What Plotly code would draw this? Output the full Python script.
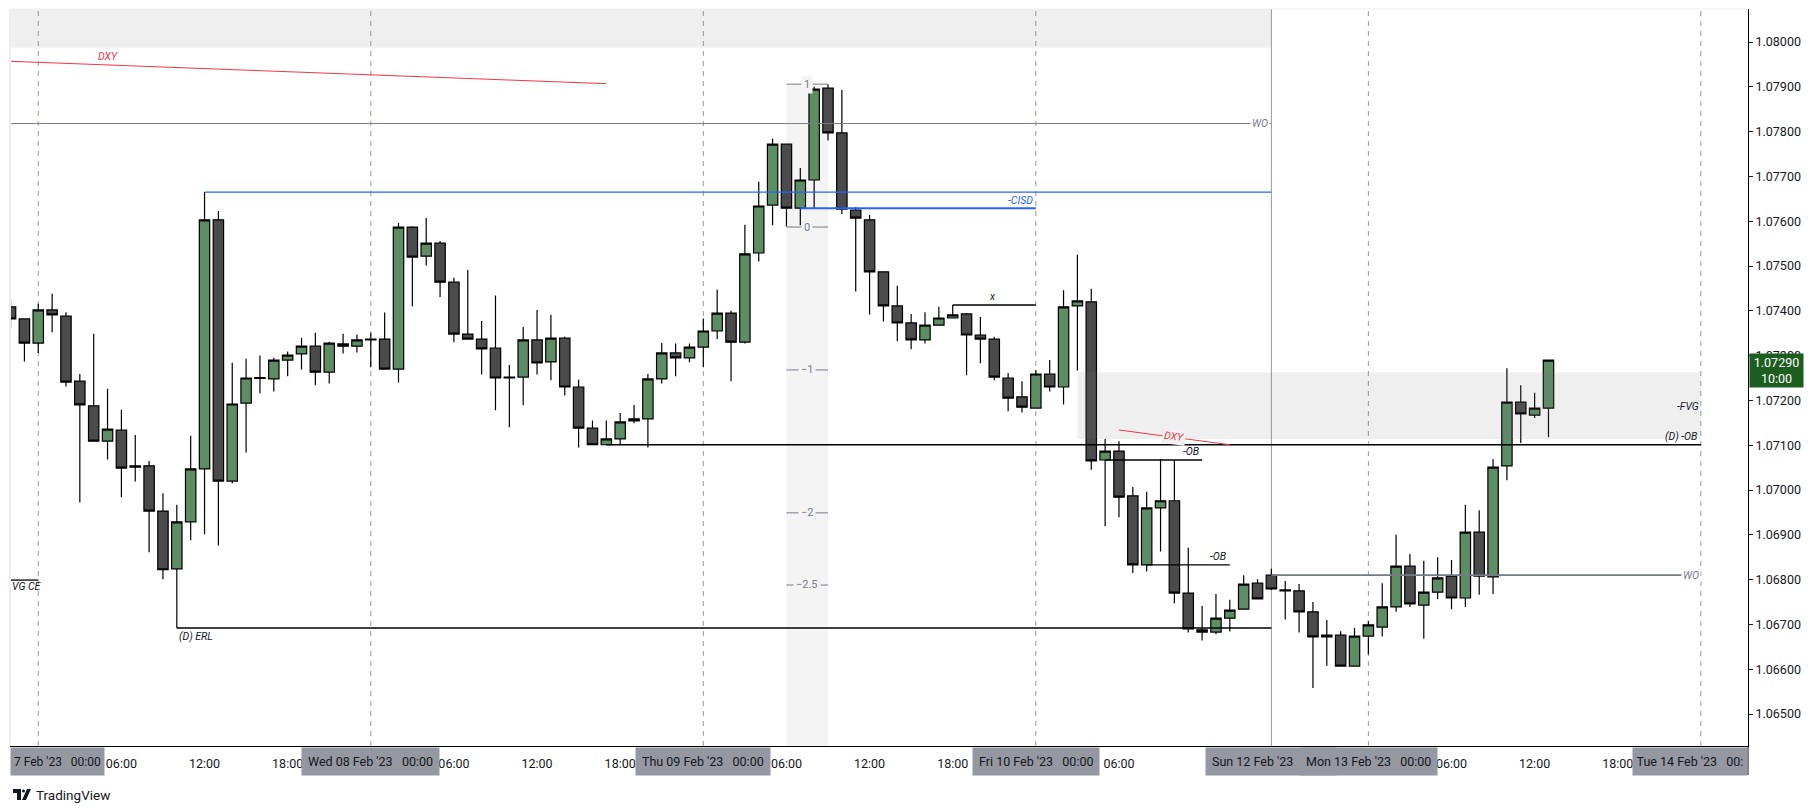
import plotly.graph_objects as go

# hourly bars, index 0 = Tue 07 Feb '23 00:00
bar_index = list(range(-2, 110))
opens = [1.07409, 1.07382, 1.07328, 1.07402, 1.07388, 1.07243, 1.07188, 1.07109, 1.07134, 1.07054,
         1.07054, 1.06953, 1.06824, 1.06929, 1.07047, 1.07603, 1.07020, 1.07194, 1.07251, 1.07248,
         1.07290, 1.07304, 1.07321, 1.07263, 1.07326, 1.07321, 1.07337, 1.07337, 1.07270, 1.07587,
         1.07522, 1.07551, 1.07464, 1.07348, 1.07337, 1.07317, 1.07252, 1.07252, 1.07335, 1.07286,
         1.07339, 1.07230, 1.07138, 1.07101, 1.07114, 1.07154, 1.07159, 1.07248, 1.07306, 1.07295,
         1.07319, 1.07355, 1.07395, 1.07330, 1.07529, 1.07636, 1.07772, 1.07629, 1.07692, 1.07897,
         1.07797, 1.07625, 1.07603, 1.07487, 1.07411, 1.07373, 1.07335, 1.07368, 1.07384, 1.07393,
         1.07346, 1.07337, 1.07250, 1.07208, 1.07183, 1.07259, 1.07230, 1.07411, 1.07420, 1.07067,
         1.07087, 1.06987, 1.06833, 1.06960, 1.06976, 1.06770, 1.06688, 1.06683, 1.06714, 1.06734,
         1.06792, 1.06810, 1.06777, 1.06775, 1.06728, 1.06672, 1.06676, 1.06607, 1.06674, 1.06694,
         1.06739, 1.06830, 1.06743, 1.06772, 1.06808, 1.06759, 1.06906, 1.06806, 1.07054, 1.07196,
         1.07167, 1.07183]
highs = [1.07426, 1.07382, 1.07416, 1.07438, 1.07397, 1.07259, 1.07349, 1.07226, 1.07179, 1.07123,
         1.07065, 1.06993, 1.06967, 1.07121, 1.07665, 1.07623, 1.07284, 1.07293, 1.07300, 1.07295,
         1.07309, 1.07340, 1.07351, 1.07331, 1.07349, 1.07347, 1.07351, 1.07396, 1.07596, 1.07589,
         1.07607, 1.07556, 1.07474, 1.07491, 1.07377, 1.07434, 1.07279, 1.07364, 1.07402, 1.07391,
         1.07342, 1.07246, 1.07155, 1.07155, 1.07172, 1.07190, 1.07259, 1.07328, 1.07327, 1.07327,
         1.07383, 1.07447, 1.07400, 1.07592, 1.07688, 1.07784, 1.07772, 1.07719, 1.07900, 1.07906,
         1.07893, 1.07632, 1.07614, 1.07487, 1.07456, 1.07393, 1.07397, 1.07409, 1.07413, 1.07395,
         1.07386, 1.07342, 1.07261, 1.07243, 1.07268, 1.07290, 1.07446, 1.07525, 1.07449, 1.07114,
         1.07109, 1.07007, 1.06996, 1.07069, 1.07067, 1.06871, 1.06741, 1.06768, 1.06755, 1.06810,
         1.06801, 1.06824, 1.06797, 1.06790, 1.06750, 1.06710, 1.06685, 1.06692, 1.06708, 1.06792,
         1.06900, 1.06857, 1.06842, 1.06850, 1.06844, 1.06967, 1.06955, 1.07069, 1.07272, 1.07234,
         1.07217, 1.07290]
lows = [1.07361, 1.07287, 1.07306, 1.07352, 1.07231, 1.06972, 1.07109, 1.07068, 1.06984, 1.07019,
        1.06861, 1.06801, 1.06757, 1.06888, 1.06901, 1.06876, 1.07015, 1.07084, 1.07216, 1.07220,
        1.07254, 1.07269, 1.07234, 1.07238, 1.07305, 1.07307, 1.07274, 1.07270, 1.07240, 1.07410,
        1.07501, 1.07431, 1.07330, 1.07337, 1.07258, 1.07178, 1.07140, 1.07189, 1.07258, 1.07245,
        1.07211, 1.07095, 1.07101, 1.07101, 1.07101, 1.07149, 1.07095, 1.07238, 1.07254, 1.07285,
        1.07274, 1.07337, 1.07243, 1.07327, 1.07510, 1.07591, 1.07588, 1.07591, 1.07627, 1.07780,
        1.07616, 1.07443, 1.07392, 1.07376, 1.07332, 1.07314, 1.07327, 1.07368, 1.07384, 1.07256,
        1.07283, 1.07245, 1.07176, 1.07173, 1.07183, 1.07220, 1.07191, 1.07267, 1.07045, 1.06919,
        1.06939, 1.06815, 1.06818, 1.06863, 1.06747, 1.06682, 1.06664, 1.06678, 1.06684, 1.06734,
        1.06757, 1.06777, 1.06711, 1.06682, 1.06558, 1.06608, 1.06607, 1.06607, 1.06633, 1.06673,
        1.06728, 1.06739, 1.06668, 1.06757, 1.06734, 1.06739, 1.06766, 1.06768, 1.07022, 1.07105,
        1.07161, 1.07118]
closes = [1.07382, 1.07328, 1.07402, 1.07391, 1.07241, 1.07190, 1.07109, 1.07136, 1.07049, 1.07051,
          1.06953, 1.06822, 1.06929, 1.07047, 1.07603, 1.07020, 1.07192, 1.07250, 1.07249, 1.07290,
          1.07301, 1.07321, 1.07263, 1.07328, 1.07321, 1.07335, 1.07335, 1.07270, 1.07587, 1.07520,
          1.07551, 1.07464, 1.07348, 1.07337, 1.07315, 1.07250, 1.07250, 1.07335, 1.07284, 1.07339,
          1.07230, 1.07138, 1.07101, 1.07114, 1.07152, 1.07159, 1.07248, 1.07306, 1.07295, 1.07319,
          1.07355, 1.07395, 1.07330, 1.07527, 1.07634, 1.07772, 1.07629, 1.07692, 1.07895, 1.07797,
          1.07627, 1.07607, 1.07487, 1.07411, 1.07373, 1.07335, 1.07368, 1.07384, 1.07391, 1.07346,
          1.07337, 1.07252, 1.07205, 1.07185, 1.07259, 1.07230, 1.07409, 1.07422, 1.07065, 1.07087,
          1.06984, 1.06833, 1.06960, 1.06976, 1.06770, 1.06690, 1.06683, 1.06714, 1.06732, 1.06790,
          1.06757, 1.06779, 1.06775, 1.06728, 1.06672, 1.06676, 1.06607, 1.06674, 1.06699, 1.06739,
          1.06830, 1.06746, 1.06772, 1.06804, 1.06759, 1.06906, 1.06808, 1.07051, 1.07196, 1.07170,
          1.07183, 1.07290]

price_ticks = [1.065, 1.066, 1.067, 1.068, 1.069, 1.07, 1.071, 1.072, 1.073, 1.074, 1.075, 1.076, 1.077, 1.078, 1.079, 1.08]
price_labels = ['1.06500', '1.06600', '1.06700', '1.06800', '1.06900', '1.07000', '1.07100', '1.07200',
                '1.07300', '1.07400', '1.07500', '1.07600', '1.07700', '1.07800', '1.07900', '1.08000']
time_ticks = [6, 12, 18, 30, 36, 42, 54, 60, 66, 78, 102, 108, 114]
time_labels = ['06:00', '12:00', '18:00', '06:00', '12:00', '18:00', '06:00', '12:00', '18:00', '06:00', '06:00', '12:00', '18:00']
day_lines = [0, 24, 48, 72, 96, 120]
sunday_line = 89
day_pills = [(24, "Wed 08 Feb '23   00:00"), (48, "Thu 09 Feb '23   00:00"), (72, "Fri 10 Feb '23   00:00"),
             (89, "Sun 12 Feb '23\u00a0\u00a0\u00a0\u00a0\u00a0\u00a0\u00a0\u00a0\u00a0\u00a0\u00a0\u00a0"), (96, "Mon 13 Feb '23   00:00")]

fib_levels = [1.07906, 1.07587, 1.07268, 1.06949, 1.06788]
fib_labels = ['1', '0', '\u22121', '\u22122', '\u22122.5']

# (start bar, end bar, price, colour, width)
levels = [
    (-2.05, 89, 1.07818, '#787b86', 1),
    (12, 89, 1.07665, '#2962ff', 1.2),
    (55, 72, 1.07629, '#2962ff', 2),
    (66, 72, 1.07413, '#000000', 1.3),
    (10, 89, 1.06692, '#000000', 1.3),
    (41, 120, 1.07101, '#000000', 1.3),
    (77, 84, 1.07067, '#000000', 1.3),
    (80, 86, 1.06833, '#000000', 1.3),
    (89, 120, 1.06810, '#787b86', 1.6),
    (-2.05, 0, 1.06799, '#000000', 1.3),
]
# (text, bar, price, colour, background)
notes = [
    ('DXY', 5, 1.07967, '#f23645', None),
    ('WO', 88.2, 1.07818, '#787b86', '#ffffff'),
    ('-CISD', 70.9, 1.07647, '#2962ff', None),
    ('x', 68.9, 1.07431, '#131722', None),
    ('(D) ERL', 11.4, 1.06672, '#131722', None),
    ('(D) -OB', 118.6, 1.07120, '#131722', None),
    ('-FVG', 119.1, 1.07187, '#131722', None),
    ('WO', 119.3, 1.06810, '#787b86', '#ffffff'),
    ('-OB', 83.2, 1.07085, '#131722', None),
    ('-OB', 85.2, 1.06851, '#131722', None),
]

LEFT, RIGHT, TOP, BOTTOM = 10, 1748, 9, 746
PRICE_LOW, PRICE_HIGH = 1.064286, 1.080737
BAR_LOW, BAR_HIGH = -2.04, 123.4


def px_x(v):
    return (v - LEFT) / (RIGHT - LEFT)


def px_y(v):
    return (BOTTOM - v) / (BOTTOM - TOP)


fig = go.Figure(go.Candlestick(
    x=bar_index, open=opens, high=highs, low=lows, close=closes,
    increasing=dict(fillcolor='#5d8d63', line=dict(color='#000000', width=1.2)),
    decreasing=dict(fillcolor='#4b4b4b', line=dict(color='#000000', width=1.2)),
    whiskerwidth=0, showlegend=False, hoverinfo='skip',
))

# zones
fig.add_shape(type='rect', x0=54, x1=57, y0=PRICE_LOW, y1=fib_levels[0], fillcolor='#f4f4f5', line_width=0, layer='below')
fig.add_shape(type='rect', x0=BAR_LOW, x1=sunday_line, y0=1.07987, y1=PRICE_HIGH, fillcolor='rgba(120,123,134,0.12)', line_width=0, layer='above')
fig.add_shape(type='rect', x0=75, x1=120, y0=1.07114, y1=1.07263, fillcolor='rgba(120,123,134,0.12)', line_width=0, layer='above')

for d in day_lines:
    fig.add_shape(type='line', x0=d, x1=d, y0=PRICE_LOW, y1=PRICE_HIGH, layer='below',
                  line=dict(color='#9598a1', width=1, dash='5px,5px'))
fig.add_shape(type='line', x0=sunday_line, x1=sunday_line, y0=PRICE_LOW, y1=PRICE_HIGH, layer='below',
              line=dict(color='#9598a1', width=1))

for x0, x1, price, colour, width in levels:
    fig.add_shape(type='line', x0=x0, x1=x1, y0=price, y1=price, layer='above', line=dict(color=colour, width=width))
# hook from the bar 10 low to the ERL line
fig.add_shape(type='line', x0=10, x1=10, y0=1.06757, y1=1.06692, layer='above', line=dict(color='#000000', width=1.2))
# DXY trend lines
fig.add_shape(type='line', x0=BAR_LOW, x1=41, y0=1.07957, y1=1.07907, layer='above', line=dict(color='#f23645', width=1))
fig.add_shape(type='line', x0=78, x1=86, y0=1.07134, y1=1.07101, layer='above', line=dict(color='#f23645', width=1))

for level, label in zip(fib_levels, fib_labels):
    fig.add_shape(type='line', x0=54, x1=57, y0=level, y1=level, layer='above', line=dict(color='#787b86', width=1))
    fig.add_annotation(x=55.5, y=level, text=label, showarrow=False, bgcolor='#f4f4f5',
                       font=dict(family='Roboto', size=11, color='#787b86'), borderpad=2)

for text, bar, price, colour, bg in notes:
    fig.add_annotation(x=bar, y=price, text=f'<i>{text}</i>', showarrow=False, bgcolor=bg,
                       font=dict(family='Roboto', size=10.5, color=colour), borderpad=1)
fig.add_annotation(x=82, y=1.07119, text='<i>DXY</i>', showarrow=False, textangle=7, bgcolor='#eff0f1',
                   font=dict(family='Roboto', size=10.5, color='#f23645'), borderpad=1)
fig.add_annotation(x=BAR_LOW, y=1.06784, text='<i>VG CE</i>', showarrow=False, xanchor='left',
                   font=dict(family='Roboto', size=10.5, color='#131722'))

# date pills under the axis
pill_y = px_y(761)
for bar, text in day_pills:
    fig.add_annotation(x=bar, y=pill_y, yref='paper', yanchor='middle', text=text, showarrow=False, bgcolor='#9598a1', borderpad=6,
                       font=dict(family='Roboto', size=12.5, color='#131722'))
fig.add_annotation(x=px_x(10), xref='paper', y=pill_y, yref='paper', yanchor='middle', text="7 Feb '23   00:00", showarrow=False, xanchor='left',
                   bgcolor='#9598a1', width=93, height=27, borderpad=0, font=dict(family='Roboto', size=12, color='#131722'))
fig.add_annotation(x=px_x(1748), xref='paper', y=pill_y, yref='paper', yanchor='middle', text="Tue 14 Feb '23   00:", showarrow=False, xanchor='right',
                   bgcolor='#9598a1', width=114, height=27, borderpad=0, font=dict(family='Roboto', size=12.5, color='#131722'))

# last price tag
fig.add_annotation(x=px_x(1749), xref='paper', y=px_y(353), yref='paper', xanchor='left', yanchor='top', text='1.07290<br>10:00', showarrow=False,
                   bgcolor='#1b5e20', width=51, height=31, align='center', font=dict(family='Roboto', size=12.5, color='#ffffff'))

# frame and logo
fig.add_shape(type='line', xref='paper', yref='paper', x0=0, x1=0, y0=0, y1=1, line=dict(color='#eceef2', width=2))
fig.add_shape(type='line', xref='paper', yref='paper', x0=0, x1=1, y0=1, y1=1, line=dict(color='#eceef2', width=1))
fig.add_shape(type='line', xref='paper', yref='paper', x0=1, x1=1, y0=0, y1=px_y(775), line=dict(color='#000000', width=1))
fig.add_shape(type='path', xref='paper', yref='paper', fillcolor='#131722', line_width=0,
              path=f'M {px_x(13)} {px_y(789)} L {px_x(21)} {px_y(789)} L {px_x(21)} {px_y(800)} L {px_x(17)} {px_y(800)} L {px_x(17)} {px_y(793)} L {px_x(13)} {px_y(793)} Z')
fig.add_shape(type='circle', xref='paper', yref='paper', fillcolor='#131722', line_width=0,
              x0=px_x(22), x1=px_x(25), y0=px_y(792.5), y1=px_y(789.5))
fig.add_shape(type='path', xref='paper', yref='paper', fillcolor='#131722', line_width=0,
              path=f'M {px_x(27)} {px_y(789)} L {px_x(31)} {px_y(789)} L {px_x(26)} {px_y(800)} L {px_x(22)} {px_y(800)} Z')
fig.add_annotation(x=px_x(34), xref='paper', y=px_y(795), yref='paper', xanchor='left', yanchor='middle', text='TradingView', showarrow=False,
                   font=dict(family='Roboto', size=13.5, color='#131722'))

fig.update_layout(
    width=1819, height=812, paper_bgcolor='#ffffff', plot_bgcolor='#ffffff',
    margin=dict(l=LEFT, r=1819 - RIGHT, t=TOP, b=812 - BOTTOM, pad=0),
    boxgap=0.25, boxgroupgap=0, showlegend=False,
    font=dict(family='Roboto', size=12.5, color='#131722'),
)
fig.update_xaxes(range=[BAR_LOW, BAR_HIGH], rangeslider_visible=False, showgrid=False, zeroline=False,
                 tickmode='array', tickvals=time_ticks, ticktext=time_labels, ticks='outside', ticklen=6, tickcolor='rgba(0,0,0,0)',
                 showline=True, linecolor='#000000', linewidth=1)
fig.update_yaxes(range=[PRICE_LOW, PRICE_HIGH], side='right', showgrid=False, zeroline=False,
                 tickmode='array', tickvals=price_ticks, ticktext=price_labels, ticks='outside', ticklen=4, tickcolor='#131722',
                 showline=True, linecolor='#000000', linewidth=1)

fig.write_html("out.html", config=dict(displayModeBar=False), post_script="document.body.style.margin='0'")
